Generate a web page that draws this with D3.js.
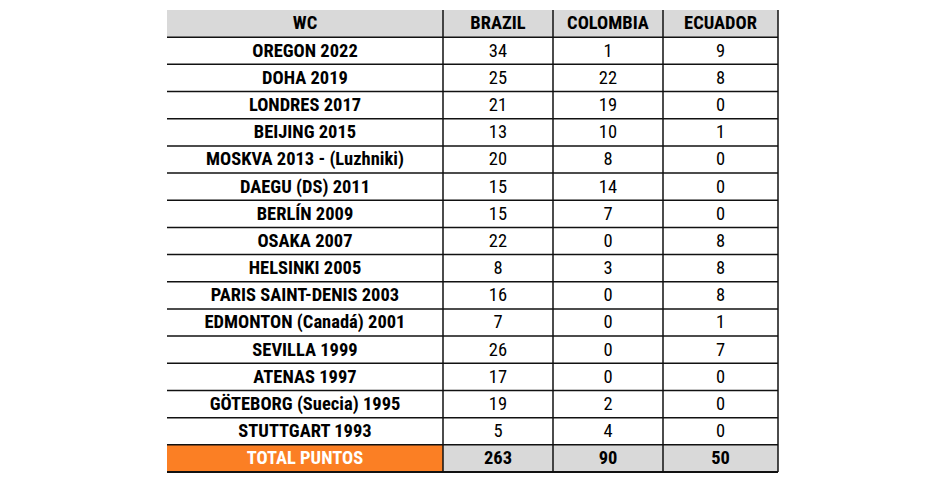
<!DOCTYPE html><html><head><meta charset="utf-8">
<script src="https://cdn.jsdelivr.net/npm/d3@7"></script>
<style>body{margin:0;background:#fff}</style></head><body><svg id="c" width="950" height="482"></svg>
<script>
const headers=["WC","BRAZIL","COLOMBIA","ECUADOR"];
const events=["OREGON 2022","DOHA 2019","LONDRES 2017","BEIJING 2015","MOSKVA 2013 - (Luzhniki)","DAEGU (DS) 2011","BERLÍN 2009","OSAKA 2007","HELSINKI 2005","PARIS SAINT-DENIS 2003","EDMONTON (Canadá) 2001","SEVILLA 1999","ATENAS 1997","GÖTEBORG (Suecia) 1995","STUTTGART 1993"];
const brazil=[34,25,21,13,20,15,15,22,8,16,7,26,17,19,5];
const colombia=[1,22,19,10,8,14,7,0,3,0,0,0,0,2,4];
const ecuador=[9,8,0,1,0,0,0,8,8,8,1,7,0,0,0];
const totalLabel="TOTAL PUNTOS";
const totals=[263,90,50];

const svg=d3.select("#c");
const font='"Liberation Sans Narrow","Roboto Condensed",Arial,sans-serif';
const rows=["h",...events.map((e,i)=>i),"t"];
const y=d3.scaleBand().domain(rows.map(String)).range([10,472]);
const colEdges=[167,443,553,663,778];
const cells=[];
rows.forEach((r)=>{
  for(let c=0;c<4;c++){
    let text,fill="#fff",color="#000",bold=false;
    if(r==="h"){text=headers[c];fill="#d9d9d9";bold=true;}
    else if(r==="t"){if(c===0){text=totalLabel;fill="#fb7f24";color="#fff";}else{text=totals[c-1];fill="#d9d9d9";}bold=true;}
    else{text=c===0?events[r]:[brazil,colombia,ecuador][c-1][r];bold=c===0;}
    cells.push({r:String(r),c,text,fill,color,bold});
  }
});
const g=svg.append("g");
g.selectAll("rect").data(cells).join("rect")
 .attr("x",d=>colEdges[d.c]).attr("width",d=>colEdges[d.c+1]-colEdges[d.c])
 .attr("y",d=>y(d.r)).attr("height",y.bandwidth()).attr("fill",d=>d.fill);
g.selectAll("text").data(cells).join("text")
 .attr("x",d=>(colEdges[d.c]+colEdges[d.c+1])/2).attr("y",d=>y(d.r)+y.bandwidth()/2+1)
 .attr("text-anchor","middle").attr("dominant-baseline","middle")
 .attr("font-family",font).attr("font-size",18.5).attr("font-weight",d=>d.bold?"bold":"normal")
 .attr("fill",d=>d.color).text(d=>d.text);
rows.slice(1).forEach(r=>{g.append("line").attr("x1",167).attr("x2",778).attr("y1",y(String(r))).attr("y2",y(String(r))).attr("stroke","#111").attr("stroke-width",1.5);});
g.append("line").attr("x1",167).attr("x2",778).attr("y1",472).attr("y2",472).attr("stroke","#111").attr("stroke-width",2);
colEdges.slice(1).forEach(x=>{g.append("line").attr("x1",x).attr("x2",x).attr("y1",10).attr("y2",472).attr("stroke","#111").attr("stroke-width",1.5);});
</script></body></html>
